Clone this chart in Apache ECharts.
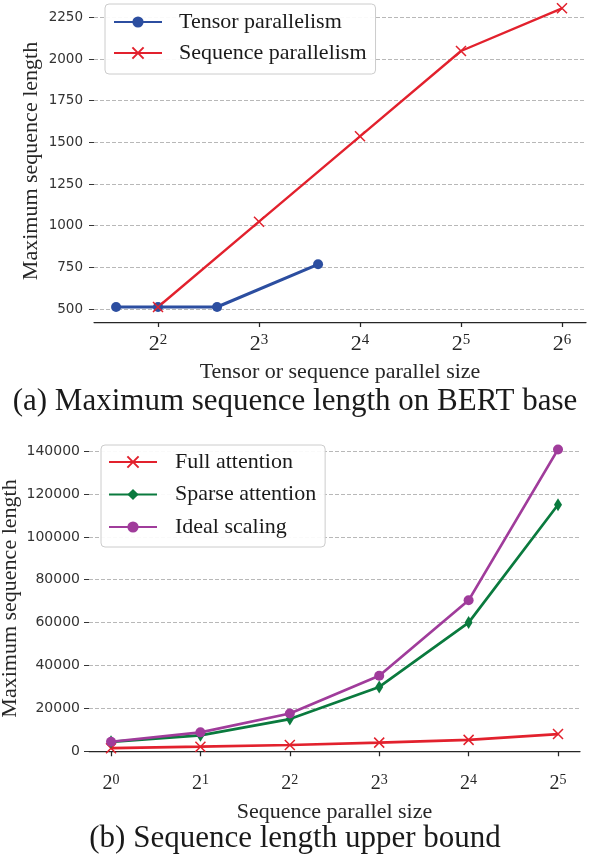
<!DOCTYPE html>
<html><head><meta charset="utf-8">
<script src="https://cdn.jsdelivr.net/npm/echarts@6/dist/echarts.min.js"></script>
<style>html,body{margin:0;padding:0;background:#fff}#c{width:590px;height:858px}</style>
</head><body><div id="c"></div>
<script>
// ---- data: (a) BERT base ----
const tensorSizes = [3, 4, 6, 12];
const tensorMaxLen = [512, 512, 512, 768];
const seqSizes = [4, 8, 16, 32, 64];
const seqMaxLen = [512, 1024, 1536, 2048, 2304];
const topYTicks = [500, 750, 1000, 1250, 1500, 1750, 2000, 2250];
const topXTicks = [4, 8, 16, 32, 64];
// ---- data: (b) sequence length upper bound ----
const spSizes = [1, 2, 4, 8, 16, 32];
const fullAttn = [1400, 2100, 2900, 4000, 5300, 8000];
const sparseAttn = [4400, 7400, 15000, 30000, 60000, 115000];
const idealScaling = [4400, 8800, 17600, 35200, 70400, 140800];
const botYTicks = [0, 20000, 40000, 60000, 80000, 100000, 120000, 140000];
const botXTicks = [1, 2, 4, 8, 16, 32];

const serif = "'Liberation Serif','DejaVu Serif',serif";
const sans = "'DejaVu Sans',sans-serif";
const BLUE = '#2c4ea0', RED = '#e2212d', GREEN = '#0a7a3e', PURPLE = '#a03c9b';
const TXT = '#262626';
const xPath = 'path://M0,0L10,10M10,0L0,10';

function pairs(xs, ys) { return xs.map((x, i) => [x, ys[i]]); }
function powLabel(v) {
  const e = Math.log2(v);
  const r = Math.round(e);
  if (Math.abs(e - r) > 1e-6) return '';
  return '{b|2}{s|' + r + '}';
}
function xAxisCfg(grid, min, max, ticks, name, baseSize, supSize, basePad, margin, nameGap) {
  return {
    gridIndex: grid, type: 'log', logBase: 2, min: min, max: max,
    axisLine: { show: true, lineStyle: { color: TXT, width: 1.25 } },
    axisTick: { show: true, length: 5, customValues: ticks, lineStyle: { color: TXT, width: 1.25 } },
    minorTick: { show: false },
    splitLine: { show: false },
    axisLabel: {
      margin: margin, customValues: ticks, formatter: powLabel,
      rich: {
        b: { fontFamily: serif, fontSize: baseSize, lineHeight: baseSize, padding: [basePad, 0, 0, 0], verticalAlign: 'bottom', color: TXT },
        s: { fontFamily: serif, fontSize: supSize, lineHeight: supSize, verticalAlign: 'top', color: TXT }
      }
    },
    name: name, nameLocation: 'middle', nameGap: nameGap, nameMoveOverlap: false,
    nameTextStyle: { fontFamily: serif, fontSize: 22, color: TXT }
  };
}
function yAxisCfg(grid, min, max, ticks, fontSize, margin, nameGap) {
  return {
    gridIndex: grid, type: 'value', min: min, max: max,
    axisLine: { show: false },
    axisTick: { show: true, length: 5, customValues: ticks, lineStyle: { color: '#333', width: 1 } },
    axisLabel: { margin: margin, customValues: ticks, fontFamily: sans, fontSize: fontSize, color: '#333',
      formatter: v => String(v) },
    splitLine: { show: true, lineStyle: { color: '#b8b8b8', width: 1, type: [4, 2] } },
    name: 'Maximum sequence length', nameLocation: 'middle', nameGap: nameGap, nameMoveOverlap: false,
    nameTextStyle: { fontFamily: serif, fontSize: 22, color: TXT }
  };
}
function legendCfg(names, left, top, gap, padding, textPad) {
  return {
    data: names, orient: 'vertical', left: left, top: top,
    itemWidth: 48, itemHeight: 14, itemGap: gap, padding: padding,
    borderColor: '#cccccc', borderWidth: 1, borderRadius: 4,
    backgroundColor: 'rgba(255,255,255,0.92)',
    textStyle: { fontFamily: serif, fontSize: 22, lineHeight: 22, color: '#1a1a1a', padding: [0, 0, 0, textPad] }
  };
}

const chart = echarts.init(document.getElementById('c'), null, { renderer: 'canvas' });
chart.setOption({
  animation: false,
  backgroundColor: '#fff',
  title: [
    { text: '(a) Maximum sequence length on BERT base', left: 'center', top: 386.5, padding: 0,
      textStyle: { fontFamily: serif, fontSize: 31, lineHeight: 31, fontWeight: 'normal', color: '#1a1a1a' } },
    { text: '(b) Sequence length upper bound', left: 'center', top: 823.5, padding: 0,
      textStyle: { fontFamily: serif, fontSize: 31, lineHeight: 31, fontWeight: 'normal', color: '#1a1a1a' } }
  ],
  grid: [
    { left: 94, top: 0, width: 492, height: 322, containLabel: false, outerBoundsMode: 'none' },
    { left: 89, top: 434, width: 491, height: 329, containLabel: false, outerBoundsMode: 'none' }
  ],
  xAxis: [
    xAxisCfg(0, 2.578, 75.47, topXTicks, 'Tensor or sequence parallel size', 22, 15, 10, 11, 39),
    xAxisCfg(1, 0.843, 37.95, botXTicks, 'Sequence parallel size', 20, 14, 15, 10.5, 38)
  ],
  yAxis: [
    yAxisCfg(0, 422, 2354, topYTicks, 13.5, 11, 52),
    yAxisCfg(1, -5500, 148000, botYTicks, 14, 9, 67.5)
  ],
  legend: [
    legendCfg(['Tensor parallelism', 'Sequence parallelism'], 105, 4, 9, [7, 9, 10, 8], 12),
    legendCfg(['Full attention', 'Sparse attention', 'Ideal scaling'], 101, 445, 10.5, [6, 9, 9, 7], 13)
  ],
  series: [
    { name: 'Tensor parallelism', type: 'line', xAxisIndex: 0, yAxisIndex: 0,
      data: pairs(tensorSizes, tensorMaxLen), symbol: 'circle', symbolSize: 10,
      lineStyle: { width: 3, color: BLUE }, itemStyle: { color: BLUE } },
    { name: 'Sequence parallelism', type: 'line', xAxisIndex: 0, yAxisIndex: 0,
      data: pairs(seqSizes, seqMaxLen), symbol: xPath, symbolSize: 10,
      lineStyle: { width: 2.4, color: RED }, itemStyle: { color: RED, borderColor: RED, borderWidth: 1.5 } },
    { name: 'Full attention', type: 'line', xAxisIndex: 1, yAxisIndex: 1,
      data: pairs(spSizes, fullAttn), symbol: xPath, symbolSize: 10,
      lineStyle: { width: 2.7, color: RED }, itemStyle: { color: RED, borderColor: RED, borderWidth: 1.5 } },
    { name: 'Sparse attention', type: 'line', xAxisIndex: 1, yAxisIndex: 1,
      data: pairs(spSizes, sparseAttn), symbol: 'diamond', symbolSize: [8, 13],
      lineStyle: { width: 2.7, color: GREEN }, itemStyle: { color: GREEN } },
    { name: 'Ideal scaling', type: 'line', xAxisIndex: 1, yAxisIndex: 1,
      data: pairs(spSizes, idealScaling), symbol: 'circle', symbolSize: 10,
      lineStyle: { width: 2.7, color: PURPLE }, itemStyle: { color: PURPLE } }
  ]
});
</script>
</body></html>
